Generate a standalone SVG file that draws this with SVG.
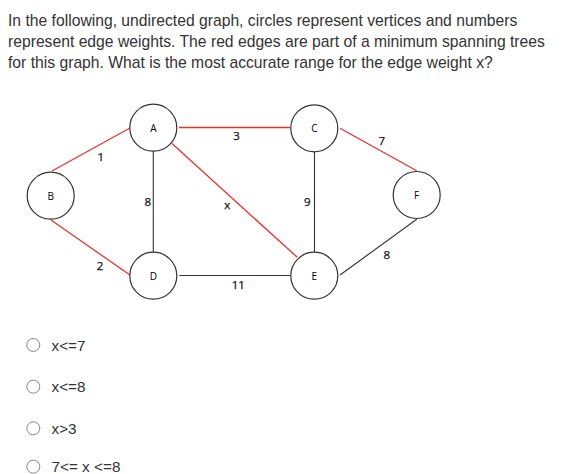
<svg xmlns="http://www.w3.org/2000/svg" width="573" height="474" viewBox="0 0 573 474">
<style>
.q{font-family:"Liberation Sans",Arial,sans-serif;font-size:15.7px;fill:#333}
.o{font-family:"Liberation Sans",Arial,sans-serif;font-size:15.3px;fill:#333}
.n{fill:#fff;stroke:#333;stroke-width:1.2}
.nl{font-family:"Open Sans","Noto Sans",sans-serif;font-size:10px;fill:#000;text-anchor:middle;dominant-baseline:central}
.w{font-family:"Open Sans","Noto Sans",sans-serif;font-size:11.5px;fill:#111;stroke:#111;stroke-width:0.25;text-anchor:middle;dominant-baseline:central}
.r{stroke:#e8312f;stroke-width:1.3;fill:none}
.k{stroke:#333;stroke-width:1.1;fill:none}
.rb{fill:#fff;stroke:#888;stroke-width:1}
</style>
<rect width="573" height="474" fill="#fff"/>
<g id="question">
<text class="q" x="8" y="26">In the following, undirected graph, circles represent vertices and numbers</text>
<text class="q" x="8" y="47">represent edge weights. The red edges are part of a minimum spanning trees</text>
<text class="q" x="8" y="67.5">for this graph. What is the most accurate range for the edge weight x?</text>
</g>
<g id="connectors">
<line class="r" x1="52" y1="171" x2="130" y2="128"/>
<line class="r" x1="51" y1="220" x2="130" y2="275"/>
<line class="r" x1="179" y1="127.5" x2="290" y2="127.5"/>
<line class="k" x1="153.3" y1="151" x2="153.3" y2="252"/>
<line class="r" x1="171.7" y1="143.3" x2="297.3" y2="257.3"/>
<line class="k" x1="314.5" y1="151" x2="314.5" y2="252"/>
<line class="r" x1="340" y1="128.3" x2="416.7" y2="170.7"/>
<line class="k" x1="340" y1="275" x2="416.7" y2="219.3"/>
<line class="k" x1="179.3" y1="275.5" x2="290" y2="275.5"/>
<text class="w" x="100.7" y="156">1</text>
<text class="w" x="100" y="265.7">2</text>
<text class="w" x="147.7" y="201.7">8</text>
<text class="w" x="227.3" y="204.3">x</text>
<text class="w" x="236.5" y="135.5">3</text>
<text class="w" x="238.3" y="284.3">11</text>
<text class="w" x="381.7" y="140">7</text>
<text class="w" x="307.3" y="201.7">9</text>
<text class="w" x="386.7" y="254">8</text>
</g>
<g id="A"><circle class="n" cx="153.3" cy="127.7" r="23.5"/><text class="nl" x="153.3" y="127.7">A</text></g>
<g id="B"><circle class="n" cx="50.7" cy="195.7" r="23.5"/><text class="nl" x="50.7" y="195.7">B</text></g>
<g id="C"><circle class="n" cx="314.3" cy="128.3" r="23.5"/><text class="nl" x="314.3" y="128.3">C</text></g>
<g id="D"><circle class="n" cx="153.3" cy="275.7" r="23.5"/><text class="nl" x="153.3" y="275.7">D</text></g>
<g id="E"><circle class="n" cx="314.3" cy="275.7" r="23.5"/><text class="nl" x="314.3" y="275.7">E</text></g>
<g id="F"><circle class="n" cx="416.7" cy="195" r="23.5"/><text class="nl" x="416.7" y="195">F</text></g>
<g id="options">
<circle class="rb" cx="33.3" cy="345" r="6.5"/><text class="o" x="51.5" y="350.5">x&lt;=7</text>
<circle class="rb" cx="33.3" cy="386.7" r="6.5"/><text class="o" x="51.5" y="392.2">x&lt;=8</text>
<circle class="rb" cx="33.3" cy="428.3" r="6.5"/><text class="o" x="51.5" y="433.8">x&gt;3</text>
<circle class="rb" cx="33.3" cy="466.7" r="6.5"/><text class="o" x="51.5" y="472.2">7&lt;= x &lt;=8</text>
</g>
</svg>
